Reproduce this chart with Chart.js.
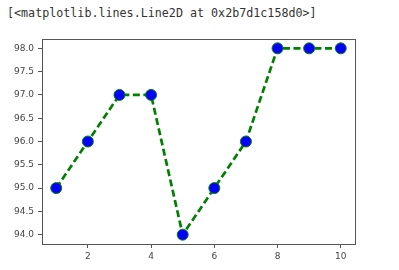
<!DOCTYPE html>
<html>
<head>
<meta charset="utf-8">
<script src="https://cdn.jsdelivr.net/npm/chart.js@4"></script>
<style>
    html, body { margin: 0; padding: 0; background: #fff; }
    #wrap { position: relative; width: 399px; height: 270px; }
    #out {
        position: absolute; left: 7px; top: 6px;
        font-family: "DejaVu Sans Mono", "Liberation Mono", monospace;
        font-size: 11.7px; color: #333; white-space: pre;
    }
    canvas { position: absolute; left: 0; top: 0; }
</style>
</head>
<body>
<div id="wrap">
    <div id="out">[&lt;matplotlib.lines.Line2D at 0x2b7d1c158d0&gt;]</div>
    <canvas id="chart" width="399" height="270"></canvas>
</div>
<script>
// Values
const xValues = [1, 2, 3, 4, 5, 6, 7, 8, 9, 10];
const yValues = [95, 96, 97, 97, 94, 95, 96, 98, 98, 98];
const xTicks = [2, 4, 6, 8, 10];
const yTicks = [94.0, 94.5, 95.0, 95.5, 96.0, 96.5, 97.0, 97.5, 98.0];

// Draw the box round the plot area like matplotlib spines
const frame = {
    id: 'frame',
    afterDraw(chart) {
        const a = chart.chartArea;
        const ctx = chart.ctx;
        ctx.save();
        ctx.strokeStyle = '#555';
        ctx.lineWidth = 1;
        ctx.strokeRect(Math.round(a.left) + 0.5, Math.round(a.top) + 0.5,
            Math.round(a.right - a.left), Math.round(a.bottom - a.top));
        ctx.restore();
    }
};

const tickFont = { family: 'DejaVu Sans', size: 9 };

new Chart(document.getElementById('chart').getContext('2d'), {
    type: 'line',
    data: {
        datasets: [{
            data: xValues.map((x, i) => ({ x: x, y: yValues[i] })),
            borderColor: '#008000',
            borderWidth: 2.7,
            borderDash: [7, 3.5],
            fill: false,
            tension: 0,
            pointRadius: 5.5,
            pointBackgroundColor: '#0000ff',
            pointBorderColor: '#008000',
            pointBorderWidth: 1
        }]
    },
    options: {
        responsive: false,
        animation: false,
        layout: { padding: { top: 39, right: 44, left: 0, bottom: 0 } },
        plugins: {
            legend: { display: false },
            tooltip: { enabled: false }
        },
        scales: {
            x: {
                type: 'linear',
                min: 0.55,
                max: 10.45,
                afterBuildTicks: s => { s.ticks = xTicks.map(v => ({ value: v })); },
                afterFit: s => { s.height = 26; },
                grid: { drawOnChartArea: false, drawTicks: true, tickLength: 4, color: '#555' },
                border: { display: false },
                ticks: { font: tickFont, color: '#444', padding: 3, maxRotation: 0 }
            },
            y: {
                min: 93.8,
                max: 98.2,
                afterBuildTicks: s => { s.ticks = yTicks.map(v => ({ value: v })); },
                afterFit: s => { s.width = 42; },
                grid: { drawOnChartArea: false, drawTicks: true, tickLength: 4, color: '#555' },
                border: { display: false },
                ticks: { font: tickFont, color: '#444', padding: 4, callback: v => v.toFixed(1) }
            }
        }
    },
    plugins: [frame]
});
</script>
</body>
</html>
